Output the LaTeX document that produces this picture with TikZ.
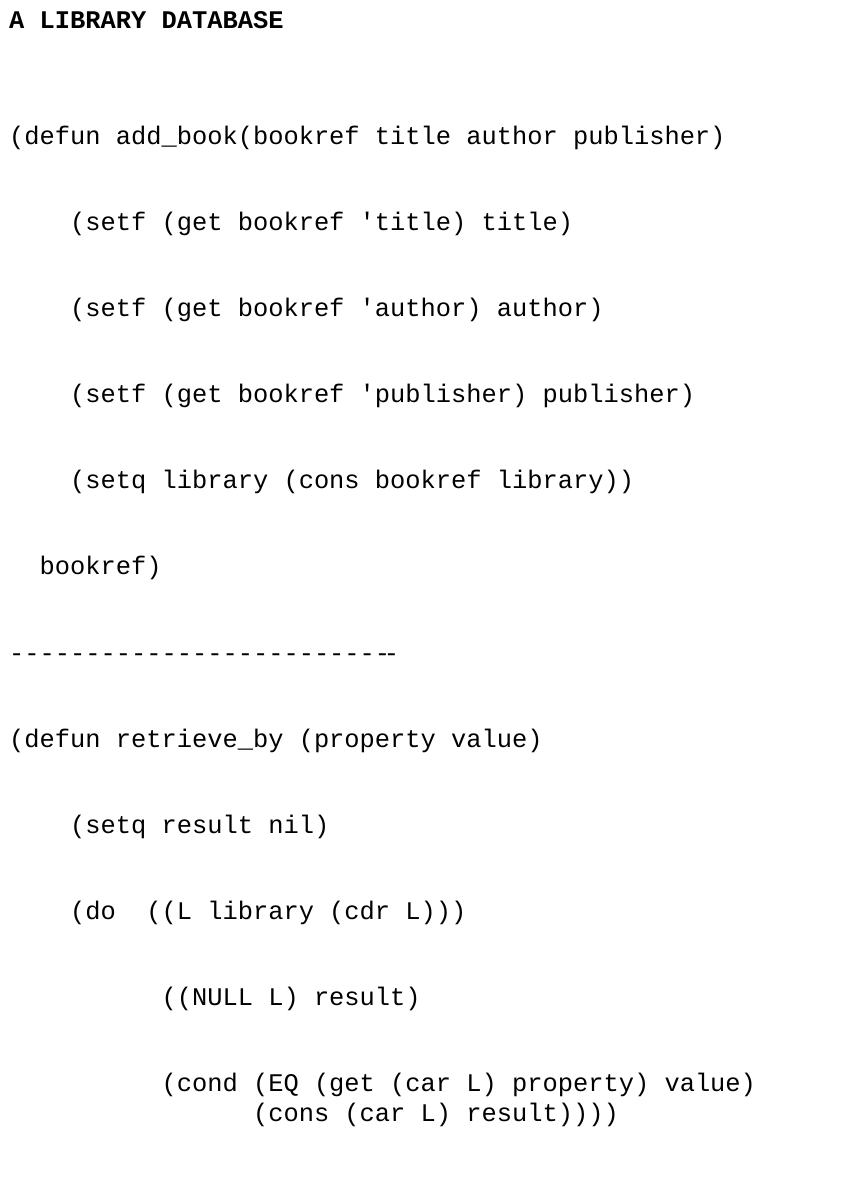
\documentclass[tikz,border=0pt]{standalone}
\usepackage{fontspec}
\setmonofont{Liberation Mono}
\begin{document}
\begin{tikzpicture}[x=1pt,y=-1pt,
  ln/.style={anchor=base west,inner sep=0pt,font=\fontsize{25.4}{30}\ttfamily}]
\useasboundingbox[fill=white] (0,0) rectangle (862,1186);
\def\cw{15.24}
\def\q{\textquotesingle}
\node[ln,font=\fontsize{25.4}{30}\ttfamily\bfseries] (t) at (9,28) {A LIBRARY DATABASE};
\node[ln] (l1) at (9,144) {(defun add\_book(bookref title author publisher)};
\node[ln] (l2) at (9+4*\cw,230) {(setf (get bookref \q title) title)};
\node[ln] (l3) at (9+4*\cw,316) {(setf (get bookref \q author) author)};
\node[ln] (l4) at (9+4*\cw,402) {(setf (get bookref \q publisher) publisher)};
\node[ln] (l5) at (9+4*\cw,488) {(setq library (cons bookref library))};
\node[ln] (l6) at (9+2*\cw,574) {bookref)};
\node[ln] (l7) at (9,661) {-------------------------\kern-0.25em-};
\node[ln] (l8) at (9,747) {(defun retrieve\_by (property value)};
\node[ln] (l9) at (9+4*\cw,833) {(setq result nil)};
\node[ln] (l10) at (9+4*\cw,919) {(do~~((L library (cdr L)))};
\node[ln] (l11) at (9+10*\cw,1005) {((NULL L) result)};
\node[ln] (l12) at (9+10*\cw,1091) {(cond (EQ (get (car L) property) value)};
\node[ln] (l13) at (9+16*\cw,1121) {(cons (car L) result))))};
\end{tikzpicture}
\end{document}
